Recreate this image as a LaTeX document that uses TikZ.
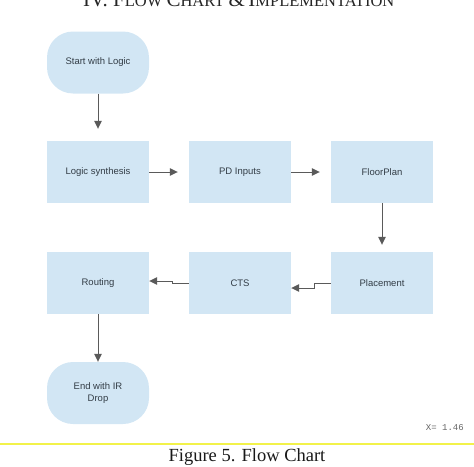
\documentclass[tikz,border=0pt]{standalone}
\usepackage{fontspec}
\setmainfont{Liberation Serif}
\setsansfont{Liberation Sans}
\setmonofont{Liberation Mono}
\usetikzlibrary{arrows.meta}
\definecolor{boxfill}{HTML}{D2E6F4}
\definecolor{txt}{HTML}{333D46}
\definecolor{arrc}{HTML}{5A5A5A}
\definecolor{ylw}{HTML}{F2F24A}
\tikzset{
  proc/.style={rectangle, fill=boxfill, minimum width=102pt, minimum height=62pt, inner sep=0pt,
    font=\sffamily\fontsize{9.5}{11.5}\selectfont, text=txt, align=center},
  term/.style={proc, rounded corners=26pt},
  arr/.style={draw=arrc, line width=1pt, -{Triangle[length=8pt,width=7.5pt]}},
}
\begin{document}
\begin{tikzpicture}[x=1pt,y=-1pt]
\useasboundingbox (0,0) rectangle (474,466);
% title (cut by the page top)
\node[anchor=base west, inner sep=0pt, text=black!85] (title) at (83,6)
  {\fontsize{21}{21}\selectfont IV.\ F{\fontsize{16.5}{16.5}\selectfont LOW }C{\fontsize{16.5}{16.5}\selectfont HART }\&\,I{\fontsize{16.5}{16.5}\selectfont MPLEMENTATION}};
% nodes
\node[term] (start) at (98,62.5) {Start with Logic};
\node[proc] (ls) at (98,172) {Logic synthesis};
\node[proc] (pd) at (240,172) {PD Inputs};
\node[proc] (fp) at (382,172) {FloorPlan};
\node[proc] (pl) at (382,283) {Placement};
\node[proc] (cts) at (240,283) {CTS};
\node[proc] (rt) at (98,283) {Routing};
\node[term] (end) at (98,393) {End with IR\\Drop};
% connectors
\draw[arr, shorten >=12pt] (start) -- (ls);
\draw[arr, shorten >=11pt] (ls) -- (pd);
\draw[arr, shorten >=11pt] (pd) -- (fp);
\draw[arr, shorten >=7pt] (fp) -- (pl);
\draw[arr] (pl.west) -- ++(-16,0) |- ([yshift=-5pt]cts.east);
\draw[arr] (cts.west) -- ++(-16,0) |- ([yshift=2pt]rt.east);
\draw[arr] (rt) -- (end);
% side label, rule and caption
\node[anchor=east, inner sep=0pt, font=\ttfamily\fontsize{9}{9}\selectfont, text=black!60] (xl) at (464,428) {X=\ 1.46};
\coordinate (rl) at (0,444);
\coordinate (rr) at (474,444);
\draw[ylw, line width=2pt] (rl) -- (rr);
\node[anchor=base, inner sep=0pt, font=\fontsize{18.5}{20}\selectfont, text=black!90] (cap) at (247,461) {Figure 5. Flow Chart};
\end{tikzpicture}
\end{document}
